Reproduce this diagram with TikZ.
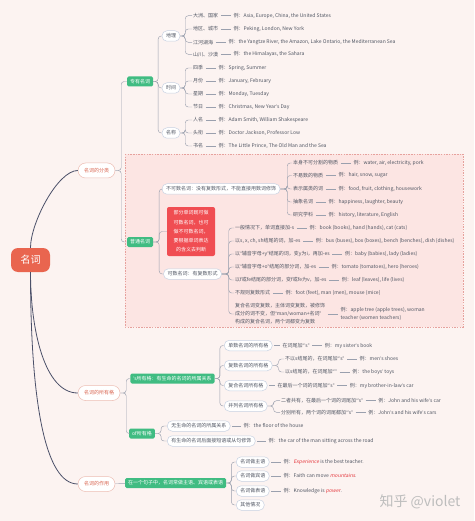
\documentclass[tikz,border=0pt]{standalone}
\usepackage{fontspec}
\setmainfont{Noto Sans CJK SC}
\newfontfamily\slantcjk{Noto Sans CJK SC}[FakeSlant=0.2]
\newfontfamily\quotefont{Liberation Sans}
\usepackage{tikz}
\usetikzlibrary{positioning}
\definecolor{MMbg}{HTML}{FCF3F1}
\definecolor{MMzone}{HTML}{FCE5E3}
\definecolor{MMzoneline}{HTML}{E6A19D}
\definecolor{MMroot}{HTML}{E9654F}
\definecolor{MMgreen}{HTML}{40BC82}
\definecolor{MMnote}{HTML}{F04D52}
\definecolor{MMtopicline}{HTML}{EDBDB3}
\definecolor{MMtopictext}{HTML}{D9644F}
\definecolor{MMpill}{HTML}{C8D2E2}
\definecolor{MMtext}{HTML}{505663}
\definecolor{MMbranch}{HTML}{9AA0AE}
\definecolor{MMrootline}{HTML}{4B5069}
\definecolor{MMhl}{HTML}{E5393F}
\definecolor{MMmark}{HTML}{BDBDBD}
\newcommand{\hlword}[1]{{\slantcjk\color{MMhl}#1}}
\newcommand{\qa}{{\quotefont ’}}
\newcommand{\qo}{{\quotefont “}}
\newcommand{\qc}{{\quotefont ”}}

\begin{document}
\begin{tikzpicture}[x=1pt,y=-1pt]
  \tikzset{
  rootnode/.style={fill=MMroot, text=white, rounded corners=7pt, minimum width=39pt, minimum height=24pt, font=\fontsize{10}{12}\selectfont},
  topic/.style={draw=MMtopicline, fill=white, line width=0.5pt, rounded corners=7.5pt, text=MMtopictext, minimum height=15pt, inner xsep=6pt, font=\fontsize{5}{6}\selectfont},
  grn/.style={fill=MMgreen, text=white, rounded corners=1.5pt, minimum height=10pt, inner xsep=3pt, inner ysep=1pt, font=\fontsize{5}{6}\selectfont},
  pill/.style={draw=MMpill, fill=white, line width=0.5pt, rounded corners=5pt, text=MMtext, minimum height=10.5pt, inner xsep=4pt, inner ysep=1pt, font=\fontsize{5}{6}\selectfont},
  leaf/.style={text=MMtext, inner sep=1pt, anchor=west, font=\fontsize{5}{6}\selectfont},
  br/.style={MMbranch, line width=0.45pt, rounded corners=3pt},
  tie/.style={MMbranch, line width=0.45pt, shorten <=1.5pt, shorten >=1.5pt},
  rootln/.style={MMrootline, line width=0.8pt},
}
  % canvas
  \fill[MMbg] (0,0) rectangle (474,521);
  \useasboundingbox (0,0) rectangle (474,521);

  % zone round the common nouns
  \fill[MMzone] (125,154) rectangle (463,327);
  \draw[MMzoneline, line width=0.5pt, dash pattern=on 1.5pt off 1.2pt] (125,154) rectangle (463,327);

  % root and main topics
  \node[rootnode] (root) at (30.5,260) {名词};
  \node[topic] (cls) at (96.5,170.5) {名词的分类};
  \node[topic] (own) at (99,393) {名词的所有格};
  \node[topic] (role) at (96.5,484) {名词的作用};
  \draw[rootln] (root.north) .. controls +(0,-25) and +(-20,0) .. (cls.west);
  \draw[rootln] (root.south) .. controls +(0,58) and +(-33,0) .. (own.west);
  \draw[rootln] (root.south) .. controls +(0,128) and +(-33,0) .. (role.west);

  % ---- classification ----
  \node[grn] (prop) at (140,81.5) {专有名词};
  \node[grn] (comm) at (140,242) {普通名词};
  \foreach \c in {prop,comm} \draw[br] (cls.east) -- ++(6,0) |- (\c.west);

  \node[pill] (geo) at (171,36) {地理};
  \node[pill] (time) at (171,88) {时间};
  \node[pill] (name) at (171,133) {名称};
  \foreach \c in {geo,time,name} \draw[br] (prop.east) -- ++(5,0) |- (\c.west);

  \foreach \nm/\yy/\lbl/\ex in {
      g1/15.7/大洲、国家/{Asia, Europe, China, the United States},
      g2/29/地区、城市/{Peking, London, New York},
      g3/42.3/江河湖海/{the Yangtze River, the Amazon, Lake Ontario, the Mediterranean Sea},
      g4/54.3/山川、沙漠/{the Himalayas, the Sahara},
      t1/68/四季/{Spring, Summer},
      t2/81/月份/{January, February},
      t3/94/星期/{Monday, Tuesday},
      t4/107/节日/{Christmas, New Year\qa s Day},
      n1/120/人名/{Adam Smith, William Shakespeare},
      n2/133/头衔/{Doctor Jackson, Professor Low},
      n3/146/书名/{The Little Prince, The Old Man and the Sea}} {
    \node[leaf] (\nm) at (192,\yy) {\lbl};
    \node[leaf, right=13pt of \nm] (\nm e) {例：\ex};
    \draw[tie] (\nm) -- (\nm e);
  }
  \foreach \c in {g1,g2,g3,g4} \draw[br] (geo.east) -- ++(5,0) |- (\c.west);
  \foreach \c in {t1,t2,t3,t4} \draw[br] (time.east) -- ++(5,0) |- (\c.west);
  \foreach \c in {n1,n2,n3} \draw[br] (name.east) -- ++(5,0) |- (\c.west);

  % common nouns
  \node[pill] (unc) at (221,189) {不可数名词：没有复数形式，不能直接用数词修饰};
  \node[fill=MMnote, text=white, rounded corners=2pt, minimum width=48pt, minimum height=49pt,
        align=center, inner sep=1pt, font=\fontsize{5}{9.3}\selectfont] (note) at (191,231.5)
        {部分单词既可做\\可数名词，也可\\做不可数名词，\\要根据单词表达\\的含义去判断};
  \node[pill] (cnt) at (192.5,274) {可数名词：有复数形式};
  \foreach \c in {unc,note,cnt} \draw[br] (comm.east) -- ++(6,0) |- (\c.west);

  \foreach \nm/\yy/\lbl/\ex in {
      u1/163/本身不可分割的物质/{water, air, electricity, pork},
      u2/175.5/不易数的物质/{hair, snow, sugar},
      u3/189/表示属类的词/{food, fruit, clothing, housework},
      u4/202/抽象名词/{happiness, laughter, beauty},
      u5/215/研究学科/{history, literature, English}} {
    \node[leaf] (\nm) at (292,\yy) {\lbl};
    \node[leaf, right=13pt of \nm] (\nm e) {例：\ex};
    \draw[tie] (\nm) -- (\nm e);
  }
  \foreach \c in {u1,u2,u3,u4,u5} \draw[br] (unc.east) -- ++(7,0) |- (\c.west);

  \foreach \nm/\yy/\lbl/\ex in {
      c1/228/{一般情况下，单词直接加-s}/{book (books), hand (hands), cat (cats)},
      c2/241/{以s, x, ch, sh结尾的词，加-es}/{bus (buses), box (boxes), bench (benches), dish (dishes)},
      c3/254/{以\qo 辅音字母+y\qc 结尾的词，变y为i，再加-es}/{baby (babies), lady (ladies)},
      c4/267/{以\qo 辅音字母+o\qc 结尾的部分词，加-es}/{tomato (tomatoes), hero (heroes)},
      c5/280/{以f或fe结尾的部分词，变f或fe为v，加-es}/{leaf (leaves), life (lives)},
      c6/293/不规则复数形式/{foot (feet), man (men), mouse (mice)}} {
    \node[leaf] (\nm) at (234,\yy) {\lbl};
    \node[leaf, right=13pt of \nm] (\nm e) {例：\ex};
    \draw[tie] (\nm) -- (\nm e);
  }
  \node[leaf, align=left, font=\fontsize{5}{8}\selectfont] (c7) at (234,314)
    {复合名词变复数，主体词变复数，被修饰\\成分的词不变，但\qo man/woman+名词\qc\\构成的复合名词，两个词都变为复数};
  \node[leaf, align=left, font=\fontsize{5}{8}\selectfont, right=13pt of c7] (c7e)
    {例：apple tree (apple trees), woman\\teacher (women teachers)};
  \draw[tie] (c7) -- (c7e);
  \foreach \c in {c1,c2,c3,c4,c5,c6,c7} \draw[br] (cnt.east) -- ++(7,0) |- (\c.west);

  % ---- possessive ----
  \node[grn] (aps) at (172.5,378.5) {\qa s所有格：有生命的名词的所属关系};
  \node[grn] (ofp) at (142,433.5) {of所有格};
  \foreach \c in {aps,ofp} \draw[br] (own.east) -- ++(6,0) |- (\c.west);

  \node[pill, anchor=west] (sgl) at (224,345.5) {单数名词的所有格};
  \node[pill, anchor=west] (plr) at (224,365.5) {复数名词的所有格};
  \node[pill, anchor=west] (cmp) at (224,385.5) {复合名词所有格};
  \node[pill, anchor=west] (par) at (224,406) {并列名词所有格};
  \foreach \c in {sgl,plr,cmp,par} \draw[br] (aps.east) -- ++(5,0) |- (\c.west);

  \node[leaf, right=9pt of sgl] (sgl1) {在词尾加\qo\qa s\qc};
  \node[leaf, right=13pt of sgl1] (sgl1e) {例：my sister\qa s book};
  \draw[tie] (sgl) -- (sgl1);
  \draw[tie] (sgl1) -- (sgl1e);

  \node[leaf] (plr1) at (284,359) {不以s结尾的，在词尾加\qo\qa s\qc};
  \node[leaf, right=13pt of plr1] (plr1e) {例：men\qa s shoes};
  \node[leaf] (plr2) at (284,372) {以s结尾的，在词尾加\qo\qa\qc};
  \node[leaf, right=13pt of plr2] (plr2e) {例：the boys\qa\ toys};
  \foreach \c in {plr1,plr2} \draw[br] (plr.east) -- ++(6,0) |- (\c.west);
  \draw[tie] (plr1) -- (plr1e);
  \draw[tie] (plr2) -- (plr2e);

  \node[leaf, right=9pt of cmp] (cmp1) {在最后一个词的词尾加\qo\qa s\qc};
  \node[leaf, right=13pt of cmp1] (cmp1e) {例：my brother-in-law\qa s car};
  \draw[tie] (cmp) -- (cmp1);
  \draw[tie] (cmp1) -- (cmp1e);

  \node[leaf] (par1) at (280,400.7) {二者共有，在最后一个词的词尾加\qo\qa s\qc};
  \node[leaf, right=13pt of par1] (par1e) {例：John and his wife\qa s car};
  \node[leaf] (par2) at (280,412.3) {分别所有，两个词的词尾都加\qo\qa s\qc};
  \node[leaf, right=13pt of par2] (par2e) {例：John\qa s and his wife\qa s cars};
  \foreach \c in {par1,par2} \draw[br] (par.east) -- ++(6,0) |- (\c.west);
  \draw[tie] (par1) -- (par1e);
  \draw[tie] (par2) -- (par2e);

  \node[pill, anchor=west] (of1) at (167,426) {无生命的名词的所属关系};
  \node[pill, anchor=west] (of2) at (167,441) {有生命的名词后面接短语或从句修饰};
  \node[leaf, right=12pt of of1] (of1e) {例：the floor of the house};
  \node[leaf, right=12pt of of2] (of2e) {例：the car of the man sitting across the road};
  \foreach \c in {of1,of2} \draw[br] (ofp.east) -- ++(6,0) |- (\c.west);
  \draw[tie] (of1) -- (of1e);
  \draw[tie] (of2) -- (of2e);

  % ---- function ----
  \node[grn, anchor=west] (fn) at (125,483) {在一个句子中，名词常做主语、宾语或表语};
  \draw[br] (role) -- (fn);

  \node[pill, anchor=west] (r1) at (236,462) {名词做主语};
  \node[pill, anchor=west] (r2) at (236,476) {名词做宾语};
  \node[pill, anchor=west] (r3) at (236,491) {名词做表语};
  \node[pill, anchor=west] (r4) at (236,505) {其他情况};
  \foreach \c in {r1,r2,r3,r4} \draw[br] (fn.east) -- ++(5,0) |- (\c.west);
  \node[leaf, right=13pt of r1] (r1e) {例：\hlword{Experience} is the best teacher.};
  \node[leaf, right=13pt of r2] (r2e) {例：Faith can move \hlword{mountains}.};
  \node[leaf, right=13pt of r3] (r3e) {例：Knowledge is \hlword{power}.};
  \foreach \c in {r1,r2,r3} \draw[tie] (\c) -- (\c e);

  % watermark
  \node[text=MMmark, font=\fontsize{14}{16}\selectfont] (mark) at (420,502) {知乎 @violet};
\end{tikzpicture}
\end{document}
